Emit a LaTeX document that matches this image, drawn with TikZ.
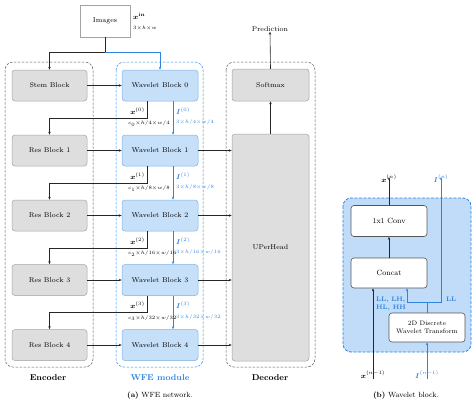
\documentclass[tikz,border=0pt]{standalone}
\usepackage{bm}
\usetikzlibrary{arrows.meta,calc}
\definecolor{gfill}{HTML}{DEDEDE}
\definecolor{gdraw}{HTML}{A3A3A3}
\definecolor{bfill}{HTML}{C6E0FA}
\definecolor{bdraw}{HTML}{7FB0E2}
\definecolor{bline}{HTML}{2F84E0}
\definecolor{pfill}{HTML}{C0DCF8}
\definecolor{dgray}{HTML}{555555}
\tikzset{
  gblock/.style={draw=gdraw,fill=gfill,rounded corners=3pt,line width=0.5pt,inner sep=1pt},
  bblock/.style={draw=bdraw,fill=bfill,rounded corners=3pt,line width=0.5pt,inner sep=1pt},
  wblock/.style={draw=dgray,fill=white,rounded corners=3pt,line width=0.6pt,inner sep=1pt,align=center},
  leftblk/.style={gblock,minimum width=75pt,minimum height=31pt},
  wavblk/.style={bblock,minimum width=76pt,minimum height=31pt},
  grpbox/.style={draw=dgray,dashed,rounded corners=8pt,line width=0.5pt,dash pattern=on 2.5pt off 1.5pt},
  bgrpbox/.style={draw=bline,dashed,rounded corners=8pt,line width=0.5pt,dash pattern=on 2.5pt off 1.5pt},
  conn/.style={line width=0.6pt,draw=black!85,->},
  bconn/.style={line width=0.6pt,draw=bline,->},
  tinylbl/.style={font=\fontsize{3.6}{4}\selectfont,inner sep=0pt},
  vlbl/.style={font=\fontsize{7.5}{8}\selectfont,inner sep=0pt},
  grplbl/.style={font=\fontsize{8.5}{10}\selectfont\bfseries,inner sep=0pt},
}
\begin{document}
\begin{tikzpicture}[x=1pt,y=-1pt,font=\fontsize{7}{8}\selectfont,>={Stealth[length=3pt,width=2.4pt]}]
\useasboundingbox (0,0) rectangle (474,405);
% group boxes
\draw[grpbox] (5,62) rectangle (93,367);
\draw[bgrpbox] (116,62) rectangle (203,367);
\draw[grpbox] (226,62) rectangle (315,367);
% images
\node[draw=gdraw,fill=white,minimum width=50pt,minimum height=32pt,line width=0.5pt] (img) at (105,21) {Images};
\node[vlbl,anchor=west] (xin) at (133,16) {$\bm{x}^{\mathbf{in}}$};
\node[tinylbl,anchor=west] (xins) at (133,28) {$3{\times}h{\times}w$};
% encoder
\node[leftblk] (stem) at (49.5,85.5) {Stem Block};
\node[leftblk] (res1) at (49.5,150.5) {Res Block 1};
\node[leftblk] (res2) at (49.5,215.5) {Res Block 2};
\node[leftblk] (res3) at (49.5,280) {Res Block 3};
\node[leftblk] (res4) at (49.5,345) {Res Block 4};
% wavelet
\node[wavblk] (wb0) at (160,85.5) {Wavelet Block 0};
\node[wavblk] (wb1) at (160,150.5) {Wavelet Block 1};
\node[wavblk] (wb2) at (160,215.5) {Wavelet Block 2};
\node[wavblk] (wb3) at (160,280) {Wavelet Block 3};
\node[wavblk] (wb4) at (160,345) {Wavelet Block 4};
% decoder
\node[gblock,minimum width=77pt,minimum height=32pt] (soft) at (270.5,85) {Softmax};
\node[gblock,minimum width=77pt,minimum height=227pt] (uper) at (270.5,247.5) {UPerHead};
\node[inner sep=0pt] (pred) at (270,29) {Prediction};
% group labels
\node[grplbl] (encl) at (48,378) {Encoder};
\node[grplbl,text=bline] (wfel) at (160,378) {WFE module};
\node[grplbl] (decl) at (270,378) {Decoder};
\node[font=\fontsize{7.5}{9}\selectfont] (capa) at (160,396) {\textbf{(a)} WFE network.};
% image connections
\coordinate (split) at (105,52);
\draw[line width=0.6pt,black!85] (img.south) -- (split);
\draw[conn] (split) -| (stem.north);
\draw[bconn] (split) -| (wb0.north);
% horizontal
\draw[conn] (stem.east) -- (wb0.west);
\foreach \i in {1,2,3,4}{
  \draw[conn] (res\i.east) -- (wb\i.west);
  \draw[conn] (wb\i.east) -- (uper.west |- wb\i.east);
}
\draw[conn] (uper.north) -- (soft.south);
\draw[conn] (soft.north) -- (pred.south);
% x and I lines
\foreach \i/\j/\c/\s in {0/1/0/4,1/2/1/8,2/3/2/16,3/4/3/32}{
  \draw[conn] ([xshift=-13pt]wb\i.south) -- ++(0,17) -| (res\j.north);
  \draw[bconn] ([xshift=13pt]wb\i.south) -- ([xshift=13pt]wb\j.north);
  \node[vlbl,anchor=base east] (xl\i) at ([xshift=-15pt,yshift=-13pt]wb\i.south) {$\bm{x}^{(\i)}$};
  \node[tinylbl,anchor=north west] (xs\i) at ([xshift=-32pt,yshift=-19.5pt]wb\i.south) {$c_{\c}{\times}h/\s{\times}w/\s$};
  \node[vlbl,anchor=base west,text=bline] (il\i) at ([xshift=16pt,yshift=-13pt]wb\i.south) {$\bm{I}^{(\i)}$};
  \node[tinylbl,anchor=north west,text=bline] (is\i) at ([xshift=16pt,yshift=-18.5pt]wb\i.south) {$3{\times}h/\s{\times}w/\s$};
}
% panel b
\draw[draw=bline,fill=pfill,dashed,dash pattern=on 3pt off 1.5pt,rounded corners=8pt,line width=0.8pt] (343,198) rectangle (471,352);
\node[wblock,minimum width=76pt,minimum height=31pt,font=\fontsize{7.5}{9}\selectfont] (conv) at (389,221) {1x1 Conv};
\node[wblock,minimum width=76pt,minimum height=30pt,font=\fontsize{7.5}{9}\selectfont] (cat) at (389,273) {Concat};
\node[wblock,minimum width=76pt,minimum height=29pt,font=\fontsize{6.5}{7.5}\selectfont] (dwt) at (427,327.5) {2D Discrete\\Wavelet Transform};
\node[vlbl,anchor=base] (xn) at (389,182) {$\bm{x}^{(n)}$};
\node[vlbl,anchor=base,text=bline] (inn) at (441,182) {$\bm{I}^{(n)}$};
\node[vlbl,anchor=base] (xn1) at (373,378) {$\bm{x}^{(n-1)}$};
\node[vlbl,anchor=base,text=bline] (in1) at (427,378) {$\bm{I}^{(n-1)}$};
\node[font=\fontsize{6.5}{7.5}\selectfont\bfseries,text=bline,align=left,anchor=west,inner sep=0pt] (bands) at (376,304) {LL, LH,\\HL, HH};
\node[font=\fontsize{6.5}{7.5}\selectfont\bfseries,text=bline,anchor=west,inner sep=0pt] (lll) at (446,299) {LL};
\node[font=\fontsize{7.5}{9}\selectfont] (capb) at (406,396) {\textbf{(b)} Wavelet block.};
\draw[conn] (cat.north) -- (conv.south);
\draw[conn] (conv.north) -- ([yshift=-2pt]xn.north);
\draw[conn] ([yshift=-8pt]xn1.north) -- (cat.south -| xn1.north);
\coordinate (bsplit) at (427,302);
\draw[line width=0.6pt,draw=bline] (dwt.north) -- (bsplit);
\draw[bconn] (bsplit) -| (cat.south -| 407,0);
\draw[bconn] (bsplit) -| ([yshift=-2pt]inn.north);
\draw[bconn] ([yshift=-8pt]in1.north) -- (dwt.south);
\end{tikzpicture}
\end{document}
